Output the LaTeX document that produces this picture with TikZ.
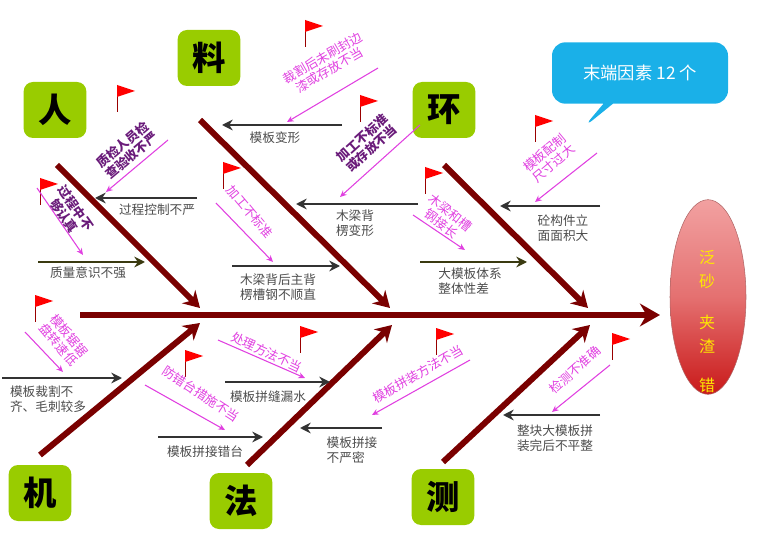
\documentclass[tikz,border=0pt]{standalone}
\usepackage{fontspec}
\setmainfont{Noto Sans CJK SC}
\usetikzlibrary{arrows.meta,shapes.geometric,shapes.callouts}
\definecolor{bone}{HTML}{7A0000}
\definecolor{catg}{HTML}{99CC00}
\definecolor{mag}{HTML}{E040E0}
\definecolor{dpur}{HTML}{6A1B7A}
\definecolor{olive}{HTML}{3A3A10}
\definecolor{callb}{HTML}{1AB0E8}
\tikzset{
 bonel/.style={draw=bone,line width=4.5pt,-{Stealth[length=12pt,width=14pt]}},
 cat/.style={fill=catg,rounded corners=7pt,minimum width=47pt,minimum height=42pt,font=\fontsize{25}{25}\selectfont\bfseries,inner sep=0pt},
 garr/.style={draw=black!80,line width=2pt,-{Stealth[length=8pt,width=8pt]}},
 oarr/.style={draw=olive,line width=2pt,-{Stealth[length=8pt,width=8pt]}},
 marr/.style={draw=mag,line width=0.8pt,-{Stealth[length=5pt,width=4.5pt]}},
 lab/.style={text=black!70,font=\fontsize{9.5}{11.5}\selectfont,align=left,inner sep=1pt},
 mlab/.style={text=mag,font=\fontsize{9.5}{10.5}\selectfont,align=center,inner sep=1pt},
 plab/.style={text=dpur,font=\fontsize{9.5}{10.5}\selectfont\bfseries,align=center,inner sep=1pt},
}
\newcommand{\flg}[2]{\draw[red!60!black,line width=0.6pt] (#1,#2) -- (#1,#2+27); \fill[red] (#1,#2) -- (#1+18,#2+6) -- (#1,#2+12) -- cycle;}
\begin{document}
\begin{tikzpicture}[x=0.75pt,y=-0.75pt]
\useasboundingbox (0,0) rectangle (760,545);
% head
\node[ellipse,minimum width=57pt,minimum height=146pt,inner sep=0pt,top color=red!30!white!90!bone,bottom color=red!55!bone!90,middle color=red!45!white!80!bone,draw=bone!60] (head) at (708,297) {};
\foreach \t/\yy in {泛/257,砂/281,夹/322,渣/346,错/385}{\node[text=yellow!90!orange,font=\fontsize{12}{12}\selectfont] at (707,\yy) {\t};}
\coordinate (s0) at (80,315); \coordinate (s1) at (660,315);
\draw[bonel,line width=5pt,-{Stealth[length=15pt,width=17pt]}] (s0) -- (s1);
% bones
\coordinate (b1a) at (57,165); \coordinate (b1b) at (200,308);
\coordinate (b2a) at (200,120); \coordinate (b2b) at (390,308);
\coordinate (b3a) at (444,165); \coordinate (b3b) at (588,308);
\coordinate (b4a) at (40,455); \coordinate (b4b) at (200,323);
\coordinate (b5a) at (247,465); \coordinate (b5b) at (392,325);
\coordinate (b6a) at (443,462); \coordinate (b6b) at (590,325);
\foreach \i in {1,...,6}{\draw[bonel] (b\i a) -- (b\i b);}
% categories
\node[cat] (ren) at (55,110) {人};
\node[cat] (liao) at (209,58) {料};
\node[cat] (huan) at (444,110) {环};
\node[cat] (ji) at (40,493) {机};
\node[cat] (fa) at (241,501) {法};
\node[cat] (ce) at (443,497) {测};
% callout
\node[rectangle callout,fill=callb,rounded corners=10pt,minimum width=132pt,minimum height=46pt,callout absolute pointer={(583,128)},text=white,font=\fontsize{13}{13}\selectfont] (call) at (640,73) {末端因素 12 个};
% flags
\flg{117}{85}\flg{305}{20}\flg{360}{95}\flg{223}{162}\flg{40}{178}\flg{425}{167}
\flg{535}{115}\flg{35}{295}\flg{300}{326}\flg{185}{350}\flg{436}{328}\flg{612}{333}
% gray arrows and labels
\coordinate (g1a) at (197,198); \coordinate (g1b) at (95,198);
\draw[garr] (g1a) -- (g1b); \node[lab] (l1) at (157,210) {过程控制不严};
\coordinate (g2a) at (38,262); \coordinate (g2b) at (145,262);
\draw[oarr] (g2a) -- (g2b); \node[lab] (l2) at (88,273) {质量意识不强};
\coordinate (g3a) at (342,125); \coordinate (g3b) at (222,125);
\draw[garr] (g3a) -- (g3b); \node[lab] (l3) at (275,138) {模板变形};
\coordinate (g4a) at (418,204); \coordinate (g4b) at (296,204);
\draw[garr] (g4a) -- (g4b); \node[lab] (l4) at (355,223) {木梁背\\楞变形};
\coordinate (g5a) at (232,266); \coordinate (g5b) at (340,266);
\draw[garr] (g5a) -- (g5b); \node[lab] (l5) at (278,287) {木梁背后主背\\楞槽钢不顺直};
\coordinate (g6a) at (600,206); \coordinate (g6b) at (500,206);
\draw[garr] (g6a) -- (g6b); \node[lab] (l6) at (563,228) {砼构件立\\面面积大};
\coordinate (g7a) at (420,262); \coordinate (g7b) at (527,262);
\draw[oarr] (g7a) -- (g7b); \node[lab] (l7) at (470,281) {大模板体系\\整体性差};
\coordinate (g8a) at (2,378); \coordinate (g8b) at (122,378);
\draw[garr] (g8a) -- (g8b); \node[lab] (l8) at (48,399) {模板裁割不\\齐、毛刺较多};
\coordinate (g9a) at (225,382); \coordinate (g9b) at (330,382);
\draw[garr] (g9a) -- (g9b); \node[lab] (l9) at (268,397) {模板拼缝漏水};
\coordinate (g10a) at (158,437); \coordinate (g10b) at (263,437);
\draw[garr] (g10a) -- (g10b); \node[lab] (l10) at (205,452) {模板拼接错台};
\coordinate (g11a) at (382,428); \coordinate (g11b) at (300,428);
\draw[garr] (g11a) -- (g11b); \node[lab] (l11) at (352,450) {模板拼接\\不严密};
\coordinate (g12a) at (600,415); \coordinate (g12b) at (503,415);
\draw[garr] (g12a) -- (g12b); \node[lab] (l12) at (555,438) {整块大模板拼\\装完后不平整};
% magenta sub-causes
\coordinate (m1a) at (168,140); \coordinate (m1b) at (106,192);
\draw[marr] (m1a) -- (m1b); \node[plab,rotate=40] (t1) at (127,150) {质检人员检\\查验收不严};
\coordinate (m2a) at (37,188); \coordinate (m2b) at (83,255);
\draw[marr] (m2a) -- (m2b); \node[plab,rotate=-55] (t2) at (70,212) {过程中不\\够认真};
\coordinate (m3a) at (378,68); \coordinate (m3b) at (287,122);
\draw[marr] (m3a) -- (m3b); \node[mlab,rotate=30] (t3) at (326,64) {裁割后未刷封边\\漆或存放不当};
\coordinate (m4a) at (420,125); \coordinate (m4b) at (340,197);
\draw[marr] (m4a) -- (m4b); \node[plab,rotate=42] (t4) at (367,143) {加工不标准\\或存放不当};
\coordinate (m5a) at (216,203); \coordinate (m5b) at (273,262);
\draw[marr] (m5a) -- (m5b); \node[mlab,rotate=-50] (t5) at (250,212) {加工不标准};
\coordinate (m6a) at (413,215); \coordinate (m6b) at (465,250);
\draw[marr] (m6a) -- (m6b); \node[mlab,rotate=-38] (t6) at (446,218) {木梁和槽\\钢接长};
\coordinate (m7a) at (597,153); \coordinate (m7b) at (535,202);
\draw[marr] (m7a) -- (m7b); \node[mlab,rotate=40] (t7) at (549,158) {模板配制\\尺寸过大};
\coordinate (m8a) at (25,332); \coordinate (m8b) at (63,372);
\draw[marr] (m8a) -- (m8b); \node[mlab,rotate=-50] (t8) at (64,340) {模板锯锯\\盘转速低};
\coordinate (m9a) at (218,340); \coordinate (m9b) at (305,378);
\draw[marr] (m9a) -- (m9b); \node[mlab,rotate=-25] (t9) at (267,352) {处理方法不当};
\coordinate (m10a) at (145,385); \coordinate (m10b) at (225,430);
\draw[marr] (m10a) -- (m10b); \node[mlab,rotate=-33] (t10) at (201,394) {防错台措施不当};
\coordinate (m11a) at (470,360); \coordinate (m11b) at (372,415);
\draw[marr] (m11a) -- (m11b); \node[mlab,rotate=30] (t11) at (418,374) {模板拼装方法不当};
\coordinate (m12a) at (610,365); \coordinate (m12b) at (552,412);
\draw[marr] (m12a) -- (m12b); \node[mlab,rotate=42] (t12) at (575,370) {检测不准确};
\end{tikzpicture}
\end{document}
